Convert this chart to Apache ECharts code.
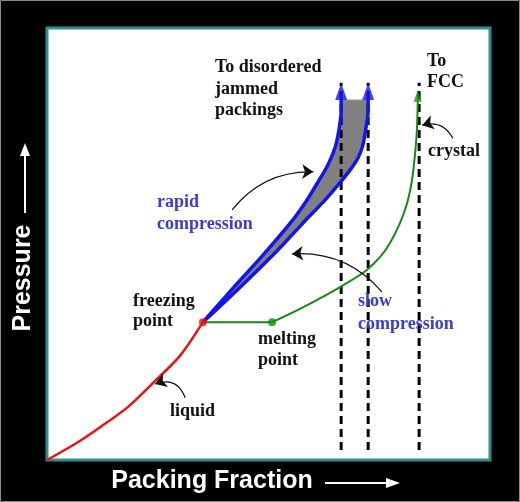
<!DOCTYPE html>
<html><head><meta charset="utf-8">
<script src="https://cdn.jsdelivr.net/npm/echarts@6/dist/echarts.min.js"></script>
<style>html,body{margin:0;padding:0;background:#000;}#c{width:520px;height:502px;}</style>
</head><body><div id="c"></div>
<script>
// Data (arbitrary units: packing fraction 0-100, pressure 0-100)
const liquid = [[0,0],[6.3,3.7],[12.0,7.6],[18.3,12.3],[23.9,17.8],[30.0,24.1],[35.2,31.9]];
const coexist = [[35.2,31.9],[50.8,31.9]];
const crystal = [[50.8,31.9],[57.1,35.0],[63.9,38.7],[68.4,41.4],[72.2,44.0],[75.2,47.0],[77.4,50.2],[79.7,54.9],[81.3,59.5],[82.4,64.8],[83.1,71.1],[83.5,76.4],[83.7,83.3]];
const rapidUpper = [[35.2,31.9],[42.0,39.8],[48.8,47.5],[55.5,55.6],[58.7,60.2],[61.2,64.4],[63.4,68.3],[65.0,72.2],[65.9,76.4],[66.4,80.6],[66.4,84.5]];
const rapidLower = [[35.2,31.9],[43.6,40.0],[51.9,48.4],[55.3,52.1],[59.1,56.3],[62.8,60.2],[65.9,63.9],[68.4,67.1],[70.2,69.9],[71.3,72.9],[72.0,76.9],[72.5,81.0],[72.5,84.5]];
const bandTop = 83.3;
const jamLimits = [66.4, 72.5, 84.0];
const limitRange = [2.3, 87.3];
const blueTips = [[66.4,85.3],[72.5,85.3]];
const greenTips = [[83.7,84.3]];
const freezing = [[35.2,31.9]];
const melting = [[50.8,31.9]];
const pointers = [
  {coords:[[41.8,57.9],[60.1,66.7]], curve:0.25},
  {coords:[[75.6,38.9],[55.3,47.7]], curve:-0.25},
  {coords:[[31.2,14.4],[24.4,17.6]], curve:-0.5},
  {coords:[[91.6,74.5],[84.7,77.5]], curve:-0.4}
];

const serifB = 'bold 18px "Liberation Serif", "DejaVu Serif", serif';
function lab(t, x, base, color){
  return {type:'text', x:x, y:base-6, z:100, style:{text:t, font:serifB, fill:color||'#111', align:'left', verticalAlign:'middle'}};
}

const chart = echarts.init(document.getElementById('c'));

function interpX(pts, y){
  for (let i=1;i<pts.length;i++){
    const a=pts[i-1], b=pts[i];
    if ((a[1]-y)*(b[1]-y) <= 0){ const t=(y-a[1])/(b[1]-a[1]); return a[0]+t*(b[0]-a[0]); }
  }
  return pts[pts.length-1][0];
}
const bandPoly = rapidUpper.filter(p=>p[1]<bandTop).concat([[interpX(rapidUpper,bandTop),bandTop],[interpX(rapidLower,bandTop),bandTop]])
  .concat(rapidLower.filter(p=>p[1]<bandTop).reverse());

const series = [];
series.push({type:'custom', z:1, silent:true, data:[0],
  renderItem:function(params, api){
    return {type:'polygon', shape:{points: bandPoly.map(p=>api.coord(p))}, style:{fill:'#808080', stroke:'#808080', lineWidth:1}};
  }});
jamLimits.forEach(x=>{
  series.push({type:'line', z:2, data:[[x,limitRange[0]],[x,limitRange[1]]], symbol:'none',
    lineStyle:{color:'#000', width:3, type:[8,5]}});
});
series.push({type:'line', z:3, data:liquid, smooth:0.3, symbol:'none', lineStyle:{color:'#ee1111', width:2.5}});
series.push({type:'line', z:3, data:coexist, symbol:'none', lineStyle:{color:'#138a13', width:2}});
series.push({type:'line', z:3, data:crystal, smooth:0.3, symbol:'none', lineStyle:{color:'#138a13', width:2}});
series.push({type:'line', z:4, data:rapidUpper, smooth:0.3, symbol:'none', lineStyle:{color:'#1414f0', width:3.5}});
series.push({type:'line', z:4, data:rapidLower, smooth:0.3, symbol:'none', lineStyle:{color:'#1414f0', width:3.5}});
series.push({type:'scatter', z:5, data:blueTips, symbol:'triangle', symbolSize:[12,17], itemStyle:{color:'#1414f0'}});
series.push({type:'scatter', z:5, data:greenTips, symbol:'triangle', symbolSize:[8,12], itemStyle:{color:'#138a13'}});
series.push({type:'scatter', z:6, data:freezing, symbol:'circle', symbolSize:8, itemStyle:{color:'#ee1111'}});
series.push({type:'scatter', z:6, data:melting, symbol:'circle', symbolSize:8, itemStyle:{color:'#138a13'}});
pointers.forEach(p=>{
  series.push({type:'lines', coordinateSystem:'cartesian2d', z:7, symbol:['none','arrow'], symbolSize:11,
    data:[{coords:p.coords}], lineStyle:{color:'#111', width:1.2, curveness:p.curve, opacity:1}, itemStyle:{color:'#111'}});
});

chart.setOption({
  backgroundColor:'#000',
  animation:false,
  grid:{left:47, top:28, width:443, height:432, show:true, backgroundColor:'#fff', borderColor:'#2f9090', borderWidth:3},
  xAxis:{type:'value', min:0, max:100, show:false},
  yAxis:{type:'value', min:0, max:100, show:false},
  series:series,
  graphic:[
    {type:'rect', shape:{x:0.5,y:0.5,width:519,height:501}, style:{fill:null, stroke:'#888', lineWidth:1}},
    {type:'text', x:212, y:481, style:{text:'Packing Fraction', font:'bold 25px "Liberation Sans", Arial, sans-serif', fill:'#fff', align:'center', verticalAlign:'middle'}},
    {type:'line', shape:{x1:325,y1:483,x2:388,y2:483}, style:{stroke:'#fff', lineWidth:2}},
    {type:'polygon', shape:{points:[[386,478],[400,483],[386,488]]}, style:{fill:'#fff'}},
    {type:'text', x:23, y:278, rotation:Math.PI/2, style:{text:'Pressure', font:'bold 25px "Liberation Sans", Arial, sans-serif', fill:'#fff', align:'center', verticalAlign:'middle'}},
    {type:'line', shape:{x1:25,y1:213,x2:25,y2:152}, style:{stroke:'#fff', lineWidth:2}},
    {type:'polygon', shape:{points:[[20,156],[25,143],[30,156]]}, style:{fill:'#fff'}},
    lab('To disordered',215,73), lab('jammed',215,95), lab('packings',215,116),
    lab('To',427,67), lab('FCC',427,88),
    lab('crystal',428,157),
    lab('rapid',157,208,'#3c3cd0'), lab('compression',157,230,'#3c3cd0'),
    lab('freezing',133,307), lab('point',133,327),
    lab('melting',258,345), lab('point',258,366),
    lab('liquid',170,417),
    lab('slow',358,307,'#3c3cd0'), lab('compression',358,330,'#3c3cd0')
  ]
});
</script></body></html>
